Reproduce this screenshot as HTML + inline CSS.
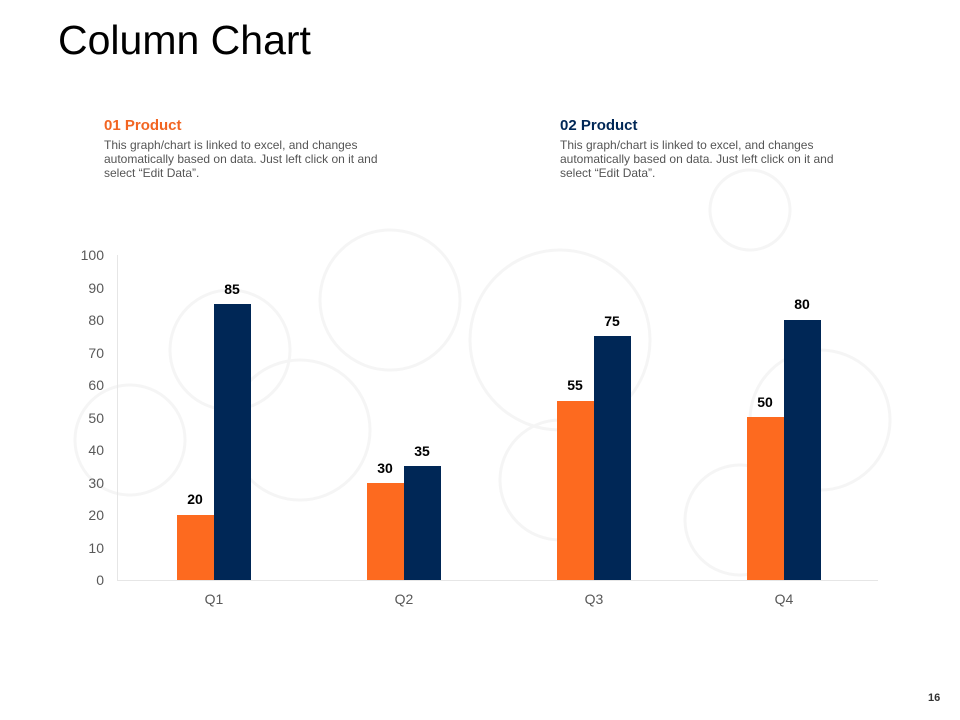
<!DOCTYPE html><html><head><style>
body{margin:0;width:960px;height:720px;background:#fff;position:relative;overflow:hidden;font-family:"Liberation Sans",sans-serif}
.a{position:absolute}
.t{font-size:12px;color:#555;line-height:14px}
.y{position:absolute;left:60px;width:44px;text-align:right;font-size:14px;color:#595959}
.b{position:absolute;width:37px}
.o{background:#fd6a1f}.n{background:#002756}
.l{position:absolute;width:40px;text-align:center;font-size:14px;font-weight:bold;color:#000}
.x{position:absolute;top:591px;width:60px;text-align:center;font-size:14px;color:#595959}
</style></head><body>
<div class="a" style="left:58px;top:17px;font-size:41px;color:#000">Column Chart</div>
<div class="a" style="left:104px;top:117px;font-size:15px;font-weight:bold;color:#f26522">01 Product</div>
<div class="a t" style="left:104px;top:138px;width:290px">This graph/chart is linked to excel, and changes automatically based on data. Just left click on it and select “Edit Data”.</div>
<div class="a" style="left:560px;top:117px;font-size:15px;font-weight:bold;color:#002756">02 Product</div>
<div class="a t" style="left:560px;top:138px;width:290px">This graph/chart is linked to excel, and changes automatically based on data. Just left click on it and select “Edit Data”.</div>
<svg class="a" style="left:0;top:0" width="960" height="720" fill="none" stroke="#f5f5f5" stroke-width="3">
<circle cx="230" cy="350" r="60"/><circle cx="390" cy="300" r="70"/><circle cx="560" cy="340" r="90"/><circle cx="750" cy="210" r="40"/><circle cx="820" cy="420" r="70"/><circle cx="130" cy="440" r="55"/><circle cx="300" cy="430" r="70"/><circle cx="560" cy="480" r="60"/><circle cx="740" cy="520" r="55"/>
</svg>
<div class="a" style="left:117px;top:255px;width:1px;height:325px;background:#e6e6e6"></div>
<div class="a" style="left:117px;top:580px;width:761px;height:1px;background:#e6e6e6"></div>
<div class="y" style="top:572px">0</div><div class="y" style="top:540px">10</div><div class="y" style="top:507px">20</div><div class="y" style="top:475px">30</div><div class="y" style="top:442px">40</div><div class="y" style="top:410px">50</div><div class="y" style="top:377px">60</div><div class="y" style="top:345px">70</div><div class="y" style="top:312px">80</div><div class="y" style="top:280px">90</div><div class="y" style="top:247px">100</div>
<div class="b o" style="left:177px;top:515px;height:65px"></div><div class="b n" style="left:214px;top:304px;height:276px"></div>
<div class="b o" style="left:367px;top:483px;height:97px"></div><div class="b n" style="left:404px;top:466px;height:114px"></div>
<div class="b o" style="left:557px;top:401px;height:179px"></div><div class="b n" style="left:594px;top:336px;height:244px"></div>
<div class="b o" style="left:747px;top:417px;height:163px"></div><div class="b n" style="left:784px;top:320px;height:260px"></div>
<div class="l" style="left:175px;top:491px">20</div><div class="l" style="left:212px;top:281px">85</div>
<div class="l" style="left:365px;top:460px">30</div><div class="l" style="left:402px;top:443px">35</div>
<div class="l" style="left:555px;top:377px">55</div><div class="l" style="left:592px;top:313px">75</div>
<div class="l" style="left:745px;top:394px">50</div><div class="l" style="left:782px;top:296px">80</div>
<div class="x" style="left:184px">Q1</div><div class="x" style="left:374px">Q2</div><div class="x" style="left:564px">Q3</div><div class="x" style="left:754px">Q4</div>
<div class="a" style="left:928px;top:692px;font-size:11px;font-weight:bold;color:#333">16</div>
</body></html>
